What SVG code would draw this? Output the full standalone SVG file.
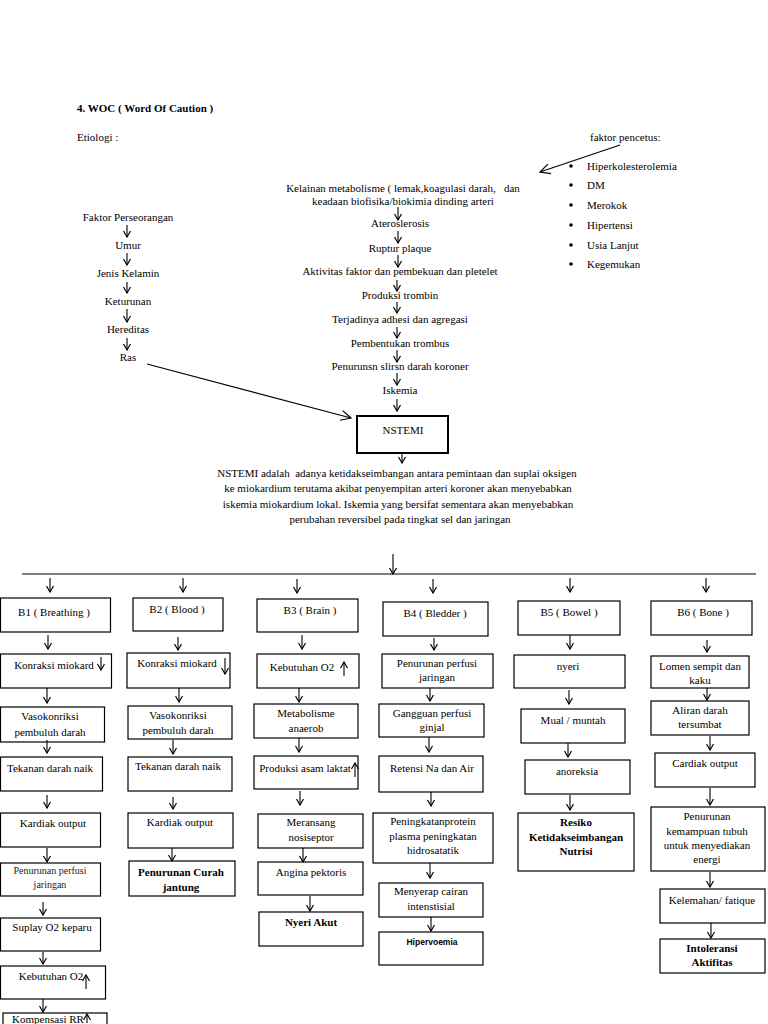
<svg xmlns="http://www.w3.org/2000/svg" width="768" height="1024" viewBox="0 0 768 1024">
<defs>
<style>
text{font-family:"Liberation Serif","Times New Roman",serif;font-size:11px;fill:#000}
.c{text-anchor:middle}
.b{font-weight:bold}
.pre{white-space:pre}
.sm{font-size:10px;fill:#222}
.sans{font-family:"Liberation Sans",Arial,sans-serif;font-size:8.5px;font-weight:bold}
rect{fill:#fff;stroke:#000;stroke-width:1.2}
.conn line,.ia{stroke:#000;stroke-width:1.1;marker-end:url(#ah)}
.conn .lg{marker-end:url(#ahl)}
.conn .plain{marker-end:none}
</style>
<marker id="ah" viewBox="0 0 8 8" refX="7" refY="4" markerWidth="8" markerHeight="8" markerUnits="userSpaceOnUse" orient="auto">
<path d="M1,0.5 L7,4 L1,7.5" fill="none" stroke="#000" stroke-width="1.2"/>
</marker>
<marker id="ahl" viewBox="0 0 12 12" refX="11" refY="6" markerWidth="12" markerHeight="12" markerUnits="userSpaceOnUse" orient="auto">
<path d="M1,1 L11,6 L1,11" fill="none" stroke="#000" stroke-width="1.2"/>
</marker>
</defs>
<rect x="0" y="0" width="768" height="1024" style="fill:#fff;stroke:none"/>

<g id="header">
<text x="77" y="112" class="b">4. WOC ( Word Of Caution )</text>
<text x="77" y="141">Etiologi :</text>
</g>

<g id="faktor-pencetus">
<text x="590" y="141">faktor pencetus:</text>
<g>
<circle cx="571" cy="166" r="1.8"/><text x="587" y="170">Hiperkolesterolemia</text>
<circle cx="571" cy="185" r="1.8"/><text x="587" y="189">DM</text>
<circle cx="571" cy="205" r="1.8"/><text x="587" y="209">Merokok</text>
<circle cx="571" cy="225" r="1.8"/><text x="587" y="229">Hipertensi</text>
<circle cx="571" cy="245" r="1.8"/><text x="587" y="249">Usia Lanjut</text>
<circle cx="571" cy="264" r="1.8"/><text x="587" y="268">Kegemukan</text>
</g>
</g>

<g id="chain-center">
<text x="403" y="192" class="c pre">Kelainan metabolisme ( lemak,koagulasi darah,   dan</text>
<text x="403" y="205" class="c">keadaan biofisika/biokimia dinding arteri</text>
<text x="400" y="227" class="c">Ateroslerosis</text>
<text x="400" y="252" class="c">Ruptur plaque</text>
<text x="400" y="275" class="c">Aktivitas faktor dan pembekuan dan pletelet</text>
<text x="400" y="299" class="c">Produksi trombin</text>
<text x="400" y="323" class="c">Terjadinya adhesi dan agregasi</text>
<text x="400" y="347" class="c">Pembentukan trombus</text>
<text x="400" y="370" class="c">Penurunsn slirsn darah koroner</text>
<text x="400" y="394" class="c">Iskemia</text>
</g>

<g id="chain-left">
<text x="128" y="221" class="c">Faktor Perseorangan</text>
<text x="128" y="249" class="c">Umur</text>
<text x="128" y="277" class="c">Jenis Kelamin</text>
<text x="128" y="305" class="c">Keturunan</text>
<text x="128" y="333" class="c">Hereditas</text>
<text x="128" y="361" class="c">Ras</text>
</g>

<g id="nstemi">
<rect x="357" y="416" width="91" height="37" style="stroke-width:2"/>
<text x="403" y="434" class="c">NSTEMI</text>
</g>

<g id="definition">
<text x="397" y="477" class="c pre">NSTEMI adalah  adanya ketidakseimbangan antara pemintaan dan suplai oksigen</text>
<text x="398" y="492" class="c">ke miokardium terutama akibat penyempitan arteri koroner akan menyebabkan</text>
<text x="398" y="508" class="c">iskemia miokardium lokal. Iskemia yang bersifat sementara akan menyebabkan</text>
<text x="400" y="523" class="c">perubahan reversibel pada tingkat sel dan jaringan</text>
</g>

<!-- B1 column -->
<g id="b1"><rect x="0.5" y="598" width="110" height="34"/><text x="54" y="616" class="c">B1 ( Breathing )</text></g>
<g id="b1-konraksi"><rect x="0.5" y="654" width="111" height="34"/><text x="54" y="669" class="c">Konraksi miokard</text><line class="ia" x1="101" y1="657" x2="101" y2="670"/></g>
<g id="b1-vaso"><rect x="0.5" y="707" width="104" height="35"/><text x="50" y="720" class="c">Vasokonriksi</text><text x="50" y="736" class="c">pembuluh darah</text></g>
<g id="b1-tekanan"><rect x="0.5" y="757" width="102" height="34"/><text x="50" y="772" class="c">Tekanan darah naik</text></g>
<g id="b1-kardiak"><rect x="0.5" y="813" width="100" height="34"/><text x="53" y="827" class="c">Kardiak output</text></g>
<g id="b1-perfusi"><rect x="0.5" y="863" width="100" height="33"/><text x="50" y="874" class="c sm">Penurunan perfusi</text><text x="50" y="888" class="c sm">jaringan</text></g>
<g id="b1-suplay"><rect x="0.5" y="918" width="100" height="33"/><text x="52" y="931" class="c">Suplay O2 keparu</text></g>
<g id="b1-kebutuhan"><rect x="0.5" y="966" width="105" height="33"/><text x="51" y="980" class="c">Kebutuhan O2</text><line class="ia" x1="86" y1="989" x2="86" y2="975"/></g>
<g id="b1-kompensasi"><rect x="3" y="1013" width="104" height="30"/><text x="48" y="1023" class="c">Kompensasi RR</text><line class="ia" x1="87" y1="1023" x2="87" y2="1014"/></g>

<!-- B2 column -->
<g id="b2"><rect x="133" y="598" width="90" height="33"/><text x="177" y="613" class="c">B2 ( Blood )</text></g>
<g id="b2-konraksi"><rect x="127" y="653" width="103" height="35"/><text x="177" y="667" class="c">Konraksi miokard</text><line class="ia" x1="225" y1="658" x2="225" y2="674"/></g>
<g id="b2-vaso"><rect x="128" y="706" width="104" height="33"/><text x="178" y="719" class="c">Vasokonriksi</text><text x="178" y="734" class="c">pembuluh darah</text></g>
<g id="b2-tekanan"><rect x="128" y="757" width="104" height="34"/><text x="178" y="770" class="c">Tekanan darah naik</text></g>
<g id="b2-kardiak"><rect x="128" y="813" width="105" height="35"/><text x="180" y="826" class="c">Kardiak output</text></g>
<g id="b2-curah"><rect x="129" y="861" width="106" height="35"/><text x="181" y="876" class="c b">Penurunan Curah</text><text x="181" y="891" class="c b">jantung</text></g>

<!-- B3 column -->
<g id="b3"><rect x="257" y="599" width="101" height="33"/><text x="310" y="614" class="c">B3 ( Brain )</text></g>
<g id="b3-kebutuhan"><rect x="257" y="654" width="102" height="34"/><text x="302" y="671" class="c">Kebutuhan O2</text><line class="ia" x1="344" y1="676" x2="344" y2="662"/></g>
<g id="b3-metabolisme"><rect x="254" y="704" width="104" height="34"/><text x="306" y="717" class="c">Metabolisme</text><text x="306" y="732" class="c">anaerob</text></g>
<g id="b3-laktat"><rect x="254" y="756" width="104" height="33"/><text x="305" y="772" class="c">Produksi asam laktat</text><line class="ia" x1="355" y1="777" x2="355" y2="763"/></g>
<g id="b3-meransang"><rect x="258" y="814" width="105" height="34"/><text x="311" y="826" class="c">Meransang</text><text x="311" y="841" class="c">nosiseptor</text></g>
<g id="b3-angina"><rect x="258" y="862" width="105" height="33"/><text x="311" y="876" class="c">Angina pektoris</text></g>
<g id="b3-nyeri"><rect x="259" y="912" width="104" height="34"/><text x="311" y="926" class="c b">Nyeri Akut</text></g>

<!-- B4 column -->
<g id="b4"><rect x="383" y="602" width="105" height="34"/><text x="435" y="617" class="c">B4 ( Bledder )</text></g>
<g id="b4-perfusi"><rect x="382" y="654" width="111" height="34"/><text x="437" y="667" class="c">Penurunan perfusi</text><text x="437" y="681" class="c">jaringan</text></g>
<g id="b4-gangguan"><rect x="379" y="704" width="105" height="33"/><text x="432" y="717" class="c">Gangguan perfusi</text><text x="432" y="731" class="c">ginjal</text></g>
<g id="b4-retensi"><rect x="379" y="756" width="104" height="36"/><text x="432" y="772" class="c">Retensi Na dan Air</text></g>
<g id="b4-protein"><rect x="373" y="813" width="120" height="50"/><text x="433" y="825" class="c">Peningkatanprotein</text><text x="433" y="840" class="c">plasma peningkatan</text><text x="433" y="854" class="c">hidrosatatik</text></g>
<g id="b4-menyerap"><rect x="379" y="883" width="104" height="34"/><text x="431" y="895" class="c">Menyerap cairan</text><text x="431" y="910" class="c">intenstisial</text></g>
<g id="b4-hipervoemia"><rect x="379" y="932" width="104" height="33"/><text x="432" y="945" class="c sans">Hipervoemia</text></g>

<!-- B5 column -->
<g id="b5"><rect x="518" y="601" width="102" height="34"/><text x="569" y="616" class="c">B5 ( Bowel )</text></g>
<g id="b5-nyeri"><rect x="514" y="655" width="111" height="33"/><text x="568" y="670" class="c">nyeri</text></g>
<g id="b5-mual"><rect x="521" y="709" width="104" height="34"/><text x="573" y="724" class="c">Mual / muntah</text></g>
<g id="b5-anoreksia"><rect x="525" y="760" width="105" height="34"/><text x="577" y="775" class="c">anoreksia</text></g>
<g id="b5-resiko"><rect x="518" y="813" width="116" height="58"/><text x="576" y="826" class="c b">Resiko</text><text x="576" y="841" class="c b">Ketidakseimbangan</text><text x="576" y="855" class="c b">Nutrisi</text></g>

<!-- B6 column -->
<g id="b6"><rect x="651" y="601" width="101" height="34"/><text x="703" y="616" class="c">B6 ( Bone )</text></g>
<g id="b6-lomen"><rect x="651" y="656" width="98" height="32"/><text x="700" y="670" class="c">Lomen sempit dan</text><text x="700" y="684" class="c">kaku</text></g>
<g id="b6-aliran"><rect x="651" y="701" width="98" height="34"/><text x="700" y="714" class="c">Aliran darah</text><text x="700" y="728" class="c">tersumbat</text></g>
<g id="b6-cardiak"><rect x="655" y="753" width="100" height="34"/><text x="705" y="767" class="c">Cardiak output</text></g>
<g id="b6-kemampuan"><rect x="651" y="807" width="114" height="64"/><text x="707" y="820" class="c">Penurunan</text><text x="707" y="835" class="c">kemampuan tubuh</text><text x="707" y="849" class="c">untuk menyediakan</text><text x="707" y="863" class="c">energi</text></g>
<g id="b6-kelemahan"><rect x="660" y="889" width="105" height="34"/><text x="712" y="904" class="c">Kelemahan/ fatique</text></g>
<g id="b6-intoleransi"><rect x="660" y="939" width="105" height="34"/><text x="712" y="952" class="c b">Intoleransi</text><text x="712" y="966" class="c b">Aktifitas</text></g>

<g id="connectors" class="conn">
<line class="lg" x1="620" y1="145" x2="540" y2="172"/>
<line class="lg" x1="147" y1="364" x2="351" y2="418"/>
<!-- center chain -->
<line x1="398" y1="207" x2="398" y2="220"/>
<line x1="398" y1="231" x2="398" y2="243"/>
<line x1="398" y1="255" x2="398" y2="267"/>
<line x1="397" y1="280" x2="397" y2="291"/>
<line x1="397" y1="302" x2="397" y2="313"/>
<line x1="397" y1="327" x2="397" y2="338"/>
<line x1="397" y1="350" x2="397" y2="362"/>
<line x1="397" y1="373" x2="397" y2="385"/>
<line x1="397" y1="399" x2="397" y2="411"/>
<!-- left chain -->
<line x1="127" y1="225" x2="127" y2="237"/>
<line x1="127" y1="253" x2="127" y2="265"/>
<line x1="127" y1="282" x2="127" y2="293"/>
<line x1="127" y1="309" x2="127" y2="322"/>
<line x1="127" y1="338" x2="127" y2="350"/>
<!-- NSTEMI -->
<line x1="402" y1="454" x2="402" y2="463"/>
<line x1="393" y1="554" x2="393" y2="574"/>
<line class="plain" x1="22" y1="574" x2="756" y2="574"/>
<!-- column heads -->
<line x1="50" y1="578" x2="50" y2="592"/>
<line x1="183" y1="578" x2="183" y2="592"/>
<line x1="297" y1="579" x2="297" y2="593"/>
<line x1="433" y1="579" x2="433" y2="593"/>
<line x1="570" y1="578" x2="570" y2="592"/>
<line x1="706" y1="578" x2="706" y2="592"/>
<!-- B1 -->
<line x1="48" y1="635" x2="48" y2="649"/>
<line x1="47" y1="688" x2="47" y2="703"/>
<line x1="47" y1="740" x2="47" y2="753"/>
<line x1="47" y1="795" x2="47" y2="808"/>
<line x1="47" y1="848" x2="47" y2="862"/>
<line x1="43" y1="902" x2="43" y2="915"/>
<line x1="43" y1="952" x2="43" y2="964"/>
<line x1="43" y1="999" x2="43" y2="1012"/>
<!-- B2 -->
<line x1="178" y1="637" x2="178" y2="650"/>
<line x1="179" y1="688" x2="179" y2="702"/>
<line x1="173" y1="740" x2="173" y2="754"/>
<line x1="173" y1="797" x2="173" y2="809"/>
<line x1="172" y1="848" x2="172" y2="861"/>
<!-- B3 -->
<line x1="302" y1="635" x2="302" y2="649"/>
<line x1="299" y1="688" x2="299" y2="702"/>
<line x1="299" y1="738" x2="299" y2="752"/>
<line x1="300" y1="791" x2="300" y2="805"/>
<line x1="303" y1="848" x2="303" y2="862"/>
<line x1="310" y1="896" x2="310" y2="911"/>
<!-- B4 -->
<line x1="434" y1="638" x2="434" y2="650"/>
<line x1="430" y1="688" x2="430" y2="701"/>
<line x1="429" y1="737" x2="429" y2="752"/>
<line x1="431" y1="792" x2="431" y2="806"/>
<line x1="430" y1="863" x2="430" y2="878"/>
<line x1="431" y1="917" x2="431" y2="931"/>
<!-- B5 -->
<line x1="570" y1="635" x2="570" y2="649"/>
<line x1="569" y1="690" x2="569" y2="704"/>
<line x1="568" y1="743" x2="568" y2="757"/>
<line x1="570" y1="795" x2="570" y2="810"/>
<!-- B6 -->
<line x1="707" y1="640" x2="707" y2="652"/>
<line x1="707" y1="688" x2="707" y2="700"/>
<line x1="710" y1="736" x2="710" y2="750"/>
<line x1="710" y1="788" x2="710" y2="805"/>
<line x1="710" y1="872" x2="710" y2="887"/>
<line x1="711" y1="923" x2="711" y2="938"/>
</g>
</svg>
